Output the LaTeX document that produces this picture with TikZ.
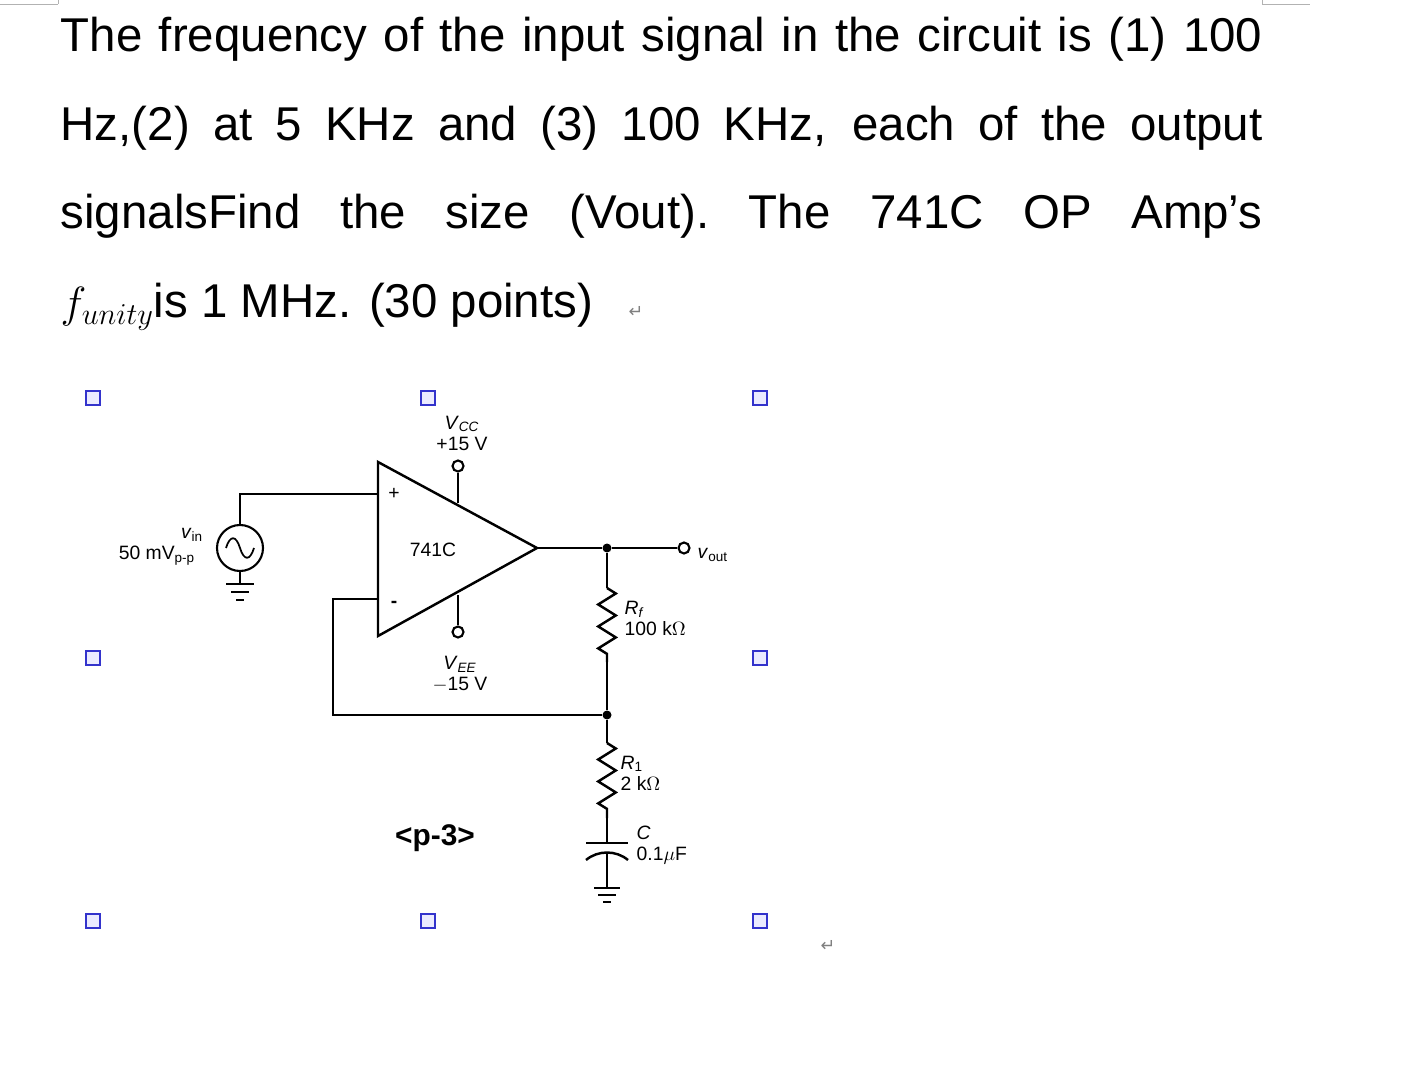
\documentclass[tikz,border=0pt]{standalone}
\usepackage{fontspec}
\setmainfont{Liberation Sans}
\newfontfamily\symfont{DejaVu Sans}
\usetikzlibrary{decorations.pathmorphing}
\newcommand{\jline}[1]{\makebox[24.04cm][s]{#1}}
\begin{document}
\begin{tikzpicture}[x=0.02cm, y=-0.02cm, thick,
    wire/.style = {line width=1.4pt},
    line/.style = {anchor=base west, font=\fontsize{27}{27}\selectfont, inner sep=0pt},
    lbl/.style = {font=\fontsize{11}{12}\selectfont, inner sep=0pt},
    res/.style = {wire, decorate, decoration={zigzag, segment length=12.5, amplitude=5}},
    pin/.style = {circle, draw, line width=1.2pt, minimum size=0.22cm, inner sep=0pt, fill=white},
    dot/.style = {circle, fill, minimum size=0.18cm, inner sep=0pt},
    handle/.style = {draw=blue!60!gray, fill=blue!8, line width=0.8pt, minimum size=0.28cm, inner sep=0pt},
    ret/.style = {text=gray, font=\symfont\fontsize{10}{10}\selectfont}]

    \useasboundingbox (0,0) rectangle (1422,1070);

    % Question text
    \node[line] (l1) at (60,52) {\jline{The frequency of the input signal in the circuit is (1) 100}};
    \node[line] (l2) at (60,141) {\jline{Hz,(2) at 5 KHz and (3) 100 KHz, each of the output}};
    \node[line] (l3) at (60,229) {\jline{signalsFind the size (Vout).\ The 741C OP Amp's}};
    \node[line] (l4) at (60,318) {$f_{unity}$is 1 MHz. (30 points)};
    \node[ret] (r1) at (636,312) {↵};
    \node[ret] (r2) at (828,946) {↵};
    \draw[gray!60, thin] (0,4) -- (58,4) (58,0) -- (58,4);
    \draw[gray!60, thin] (1262,4) -- (1310,4) (1262,0) -- (1262,4);

    % Handles
    \foreach \hx/\hy [count=\i] in {93/398, 428/398, 760/398, 93/658, 760/658, 93/921, 428/921, 760/921}
        \node[handle] (h\i) at (\hx,\hy) {};

    % Op amp
    \coordinate (ta) at (378,462);
    \coordinate (tb) at (378,636);
    \coordinate (tip) at (537,548);
    \draw[wire] (ta) -- (tip) -- (tb) -- cycle;
    \node[lbl] (amp) at (433,550) {741C};
    \node[lbl] (plus) at (394,494) {+};
    \node[lbl] (minus) at (394,604) {\bfseries -};

    % Supply pins
    \node[pin] (vcc) at (458,466) {};
    \coordinate (vcct) at (458,503);
    \draw[wire] (vcc) -- (vcct);
    \node[lbl, align=center] (vccl) at (462,433) {\textit{V}\textsubscript{\textit{CC}}\\+15 V};
    \node[pin] (vee) at (458,632) {};
    \coordinate (veet) at (458,595);
    \draw[wire] (veet) -- (vee);
    \node[lbl, align=center] (veel) at (460,674) {\textit{V}\textsubscript{\textit{EE}}\\$-$15 V};

    % Source
    \node[circle, draw, line width=1.2pt, minimum size=0.92cm] (src) at (240,548) {};
    \draw[line width=1pt] (226,548) .. controls (230,535) and (236,535) .. (240,548) .. controls (244,561) and (250,561) .. (254,548);
    \coordinate (ninp) at (378,494);
    \coordinate (srct) at (240,494);
    \draw[wire] (src.north) -- (srct) -- (ninp);
    \coordinate (gs) at (240,584);
    \draw[wire] (src.south) -- (gs);
    \draw[wire] (226,584) -- (254,584) (231,592) -- (249,592) (236,600) -- (244,600);
    \node[lbl] (vin) at (192,535) {\textit{v}\textsubscript{in}};
    \node[lbl] (vpp) at (157,556) {50 mV\textsubscript{p-p}};

    % Output and feedback
    \node[dot] (nout) at (607,548) {};
    \node[pin] (vo) at (684,548) {};
    \draw[wire] (tip) -- (nout) -- (vo);
    \node[lbl, anchor=west] (vol) at (697,555) {\textit{v}\textsubscript{out}};
    \node[dot] (nfb) at (607,715) {};
    \coordinate (rfa) at (607,588);
    \coordinate (rfb) at (607,662);
    \draw[wire] (nout) -- (rfa);
    \draw[res] (rfa) -- (rfb);
    \draw[wire] (rfb) -- (nfb);
    \node[lbl, anchor=west, align=left] (rfl) at (624,618) {\textit{R}\textsubscript{\textit{f}}\\100 k$\Omega$};
    \coordinate (ninv) at (378,599);
    \coordinate (fbl) at (333,599);
    \coordinate (fbb) at (333,715);
    \draw[wire] (ninv) -- (fbl) -- (fbb) -- (nfb);

    % R1 and C
    \coordinate (r1a) at (607,743);
    \coordinate (r1b) at (607,818);
    \draw[wire] (nfb) -- (r1a);
    \draw[res] (r1a) -- (r1b);
    \coordinate (ca) at (607,843);
    \draw[wire] (r1b) -- (ca);
    \draw[wire] (586,843) -- (628,843);
    \draw[wire] (586,860) .. controls (598,850) and (616,850) .. (628,860);
    \coordinate (gc) at (607,888);
    \draw[wire] (607,853) -- (gc);
    \draw[wire] (594,888) -- (620,888) (598,895) -- (616,895) (603,902) -- (611,902);
    \node[lbl, anchor=west, align=left] (r1l) at (620,773) {\textit{R}\textsubscript{1}\\2 k$\Omega$};
    \node[lbl, anchor=west, align=left] (cl) at (636,845) {\textit{C}\\0.1$\mu$F};

    \node[font=\bfseries\fontsize{17}{17}\selectfont] (pg) at (435,838) {<p-3>};
\end{tikzpicture}
\end{document}
